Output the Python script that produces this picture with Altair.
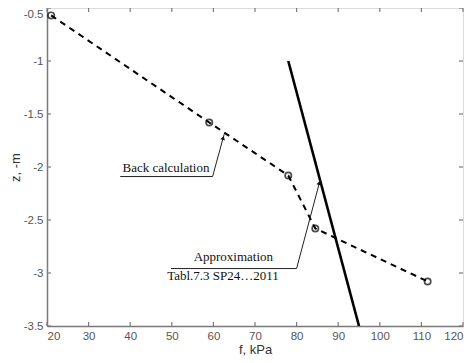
import altair as alt
import pandas as pd

# measured points (open circles) joined by the dashed curve
back_f = [21, 59, 78, 84.5, 111.5]
back_z = [-0.57, -1.58, -2.08, -2.58, -3.08]

# approximation line (Tabl.7.3 SP24...2011)
approx_f = [78, 95]
approx_z = [-1.0, -3.5]

# annotation leader lines
lead1_f = [37.6, 59.8, 62.6]
lead1_z = [-2.09, -2.09, -1.69]
lead2_f = [49.8, 80.0, 85.7]
lead2_z = [-2.958, -2.958, -2.117]

# arrowhead centres (just behind each tip)
head_f = [62.35, 85.45]
head_z = [-1.725, -2.15]
head_ang = [15, 15]

labels = ["Back calculation", "Approximation", "Tabl.7.3  SP24\u20262011"]
label_f = [48.6, 64.8, 62.3]
label_z = [-2.05, -2.89, -3.07]

x_ticks = [20, 30, 40, 50, 60, 70, 80, 90, 100, 110, 120]
y_ticks = [-0.5, -1, -1.5, -2, -2.5, -3, -3.5]

W, H = 416, 318
GRAY = "#7a7a7a"

xs = alt.Scale(domain=[20, 120], nice=False, zero=False)
ys = alt.Scale(domain=[-3.5, -0.5], nice=False, zero=False)

back = pd.DataFrame({"f": back_f, "z": back_z, "i": range(len(back_f))})
approx = pd.DataFrame({"f": approx_f, "z": approx_z, "i": range(2)})
lead = pd.DataFrame({
    "f": lead1_f + lead2_f,
    "z": lead1_z + lead2_z,
    "g": ["a"] * 3 + ["b"] * 3,
    "i": list(range(3)) * 2,
})
heads = pd.DataFrame({"f": head_f, "z": head_z, "ang": head_ang})
txt = pd.DataFrame({"f": label_f, "z": label_z, "t": labels})
xt = pd.DataFrame({"f": x_ticks})
yt = pd.DataFrame({"z": y_ticks})

x_axis = alt.Axis(values=x_ticks, tickSize=0, grid=False, domainColor=GRAY, domainWidth=1.5,
                  labelColor="#555", labelFont="Liberation Sans", labelFontSize=11.5, labelPadding=4,
                  title="f, kPa", titleFont="Liberation Sans", titleFontSize=13, titleFontWeight="normal",
                  titleColor="#333", titlePadding=2)
y_axis = alt.Axis(values=y_ticks, tickSize=0, grid=False, domainColor=GRAY, domainWidth=1.5,
                  labelColor="#555", labelFont="Liberation Sans", labelFontSize=11.5, labelPadding=4,
                  labelExpr="datum.value + ''",
                  labelBaseline=alt.condition("datum.value == -0.5", alt.value("top"), alt.value("middle")),
                  title="z, -m", titleFont="Liberation Sans", titleFontSize=13, titleFontWeight="normal",
                  titleColor="#333", titlePadding=1)

dashed = alt.Chart(back).mark_line(color="black", strokeWidth=2, strokeDash=[6, 5]).encode(
    x=alt.X("f:Q", scale=xs, axis=x_axis),
    y=alt.Y("z:Q", scale=ys, axis=y_axis),
    order="i:Q",
)
circles = alt.Chart(back).mark_point(shape="circle", size=40, color="black", strokeWidth=1.7, filled=False).encode(
    x=alt.X("f:Q", scale=xs), y=alt.Y("z:Q", scale=ys)
)
solid = alt.Chart(approx).mark_line(color="black", strokeWidth=2.6, clip=True).encode(
    x=alt.X("f:Q", scale=xs), y=alt.Y("z:Q", scale=ys), order="i:Q"
)
leaders = alt.Chart(lead).mark_line(color="#222", strokeWidth=1).encode(
    x=alt.X("f:Q", scale=xs), y=alt.Y("z:Q", scale=ys), detail="g:N", order="i:Q"
)
arrowheads = alt.Chart(heads).mark_point(
    shape="triangle-up", filled=True, color="#111", size=22, opacity=1
).encode(
    x=alt.X("f:Q", scale=xs), y=alt.Y("z:Q", scale=ys), angle=alt.Angle("ang:Q", scale=None)
)
texts = alt.Chart(txt).mark_text(font="Liberation Serif", fontSize=13, color="#111", align="center", baseline="alphabetic").encode(
    x=alt.X("f:Q", scale=xs), y=alt.Y("z:Q", scale=ys), text="t:N"
)

# inward ticks, MATLAB style, on all four sides
tb = alt.Chart(xt).mark_rule(color=GRAY, strokeWidth=1.2).encode(
    x=alt.X("f:Q", scale=xs), y=alt.value(H), y2=alt.value(H - 4))
tt = alt.Chart(xt).mark_rule(color=GRAY, strokeWidth=1.2).encode(
    x=alt.X("f:Q", scale=xs), y=alt.value(0), y2=alt.value(4))
tl = alt.Chart(yt).mark_rule(color=GRAY, strokeWidth=1.2).encode(
    y=alt.Y("z:Q", scale=ys), x=alt.value(0), x2=alt.value(4))
tr = alt.Chart(yt).mark_rule(color=GRAY, strokeWidth=1.2).encode(
    y=alt.Y("z:Q", scale=ys), x=alt.value(W), x2=alt.value(W - 4))

chart = alt.layer(dashed, circles, solid, leaders, arrowheads, texts, tb, tt, tl, tr).properties(
    width=W, height=H,
    autosize=alt.AutoSizeParams(type="none"),
    padding={"left": 39, "top": 0, "right": 3, "bottom": 36},
).configure_view(stroke=GRAY, strokeWidth=1.5).configure(background="white")

chart.save("out.html", embed_options={"renderer": "svg", "actions": False})
